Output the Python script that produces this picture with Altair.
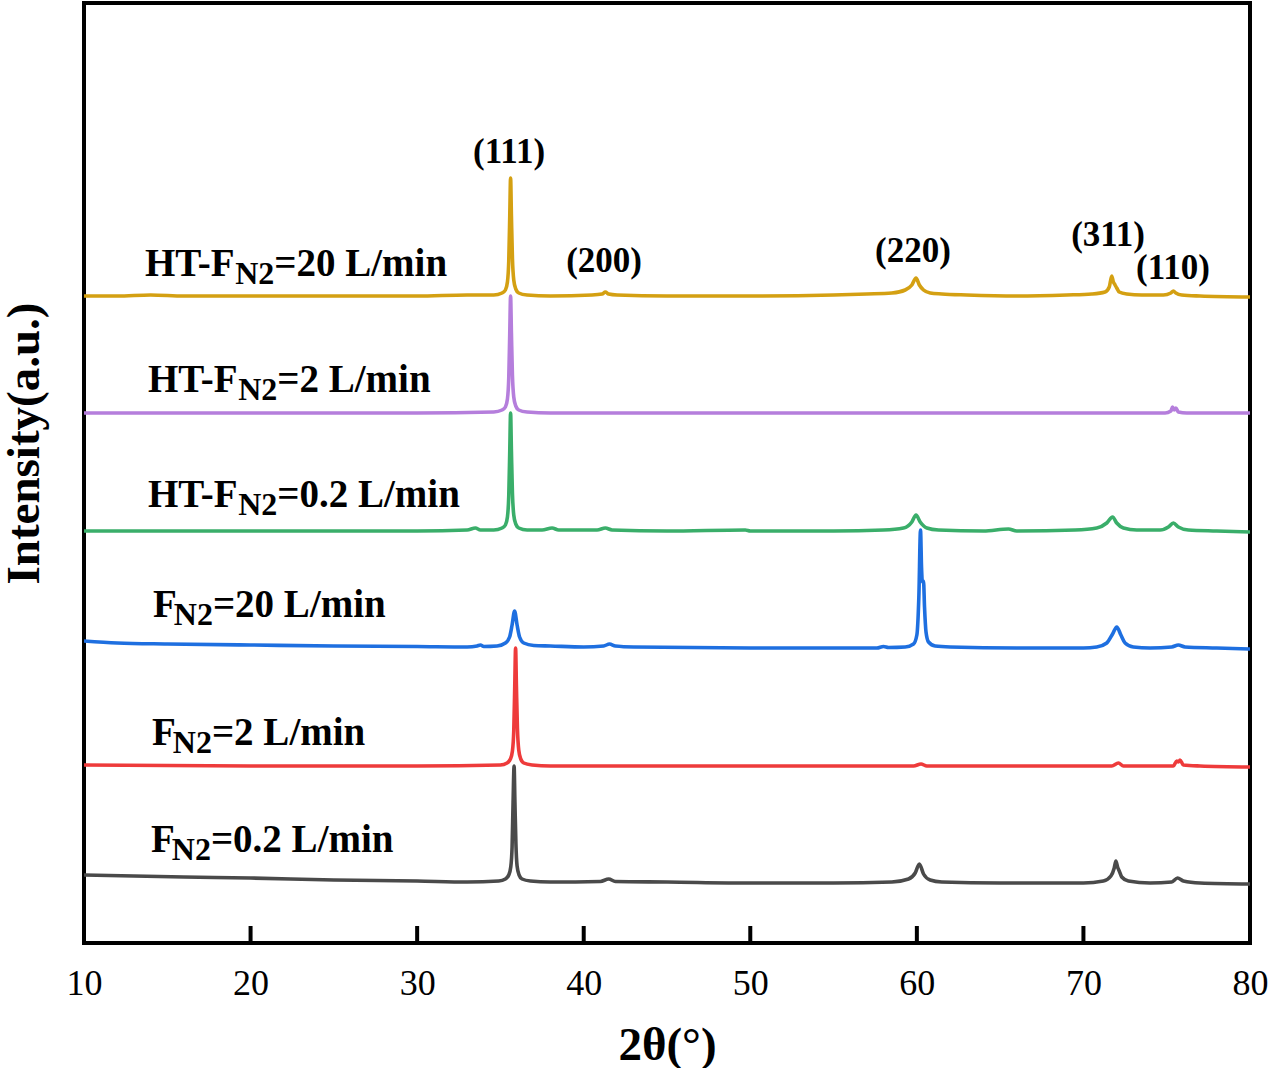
import altair as alt
import pandas as pd

# ---- XRD patterns: 2-theta (deg) and intensity above each trace's own baseline ----
hi_20 = [(10, 0), (12, 0), (14, 1), (16, 0), (20, 0), (25, 0), (30, 0), (33, 1), (34.6, 1), (35.1, 3),
         (35.3, 6), (35.42, 14), (35.5, 35), (35.56, 80), (35.61, 118), (35.66, 80), (35.72, 38),
         (35.8, 16), (35.92, 7), (36.1, 3), (36.6, 1), (38, 0), (40.5, 1), (41.1, 2), (41.3, 4),
         (41.5, 2), (42, 1), (45, 0), (50, 0), (55, 1), (57, 2), (58.5, 3), (59.3, 6), (59.7, 11),
         (59.95, 18), (60.15, 11), (60.4, 6), (60.8, 3), (61.5, 2), (63, 1), (66, 0), (69, 1),
         (70.5, 2), (71.3, 4), (71.55, 9), (71.7, 20), (71.8, 14), (71.9, 11), (72.0, 8), (72.15, 4),
         (72.6, 2), (73.5, 1), (74.8, 1), (75.25, 3), (75.4, 5), (75.55, 3), (75.9, 1), (77, 0), (80, -1)]

hi_2 = [(10, 0), (20, 0), (30, 0), (34.6, 1), (35.1, 3), (35.3, 6), (35.42, 14), (35.5, 35),
        (35.56, 80), (35.61, 117), (35.66, 80), (35.72, 38), (35.8, 16), (35.92, 7), (36.1, 3),
        (36.6, 1), (38, 0), (50, 0), (60, 0), (70, 0), (74.9, 0), (75.25, 2), (75.35, 6), (75.45, 3),
        (75.55, 5), (75.7, 1), (76.2, 0), (80, 0)]

hi_02 = [(10, 0), (20, 0), (30, 0), (33.0, 1), (33.5, 3), (33.8, 1), (34.6, 1), (35.1, 3), (35.3, 6),
         (35.42, 14), (35.5, 35), (35.56, 80), (35.61, 118), (35.66, 80), (35.72, 38), (35.8, 16),
         (35.92, 7), (36.1, 3), (36.6, 1), (37.5, 1), (38.1, 3), (38.5, 1), (40.8, 1), (41.3, 3),
         (41.7, 1), (45, 0), (49.7, 1), (50, 0), (55, 0), (58, 1), (59.2, 3), (59.7, 9), (59.95, 16),
         (60.2, 9), (60.6, 3), (61.3, 1), (64, 0), (65.5, 2), (66, 0), (69.5, 1), (70.8, 3), (71.4, 8),
         (71.75, 14), (72.0, 8), (72.4, 3), (73.2, 1), (74.6, 1), (75.1, 4), (75.4, 8), (75.7, 4),
         (76.3, 1), (78, 0), (80, -1)]

as_20 = [(10, 6), (12, 4), (15, 3), (20, 2), (25, 1), (30, 0.5), (33, 0), (33.6, 1), (33.8, 2),
         (34.0, 0.5), (34.8, 1), (35.3, 4), (35.55, 10), (35.7, 22), (35.85, 36), (36.0, 22),
         (36.15, 10), (36.4, 4), (37, 1.5), (38, 1), (40, 0), (41.2, 1), (41.55, 3), (41.9, 1), (43, 0),
         (50, -1), (55, -1), (57.6, -1), (58.0, 0.5), (58.3, -0.5), (59.3, 0), (59.8, 3), (60.0, 12),
         (60.12, 50), (60.22, 117), (60.28, 80), (60.33, 65), (60.4, 66), (60.46, 40), (60.55, 15),
         (60.7, 5), (61.1, 1), (62, 0), (66, -1), (70, -1), (70.8, 0), (71.4, 4), (71.75, 13),
         (72.0, 20), (72.25, 12), (72.5, 4), (73.0, 0), (74, -1), (75.3, 0), (75.7, 2), (76.1, 0),
         (78, -1), (80, -2)]

as_2 = [(10, 1), (20, 0), (30, 0), (35.0, 1), (35.4, 3), (35.6, 7), (35.72, 15), (35.8, 35),
        (35.86, 80), (35.91, 118), (35.96, 80), (36.02, 38), (36.1, 16), (36.22, 7), (36.4, 3),
        (36.9, 1), (38, 0), (45, 0), (50, 0), (59.8, 0), (60.25, 2), (60.6, 0), (71.7, 0), (72.1, 3),
        (72.4, 0), (75.4, 0), (75.6, 5), (75.7, 4), (75.8, 6), (76.0, 1), (77, 0), (80, -1)]

as_02 = [(10, 7), (13, 6), (16, 5), (20, 4), (25, 2), (30, 1), (33, 0), (34.9, 1), (35.3, 3),
         (35.5, 7), (35.62, 15), (35.7, 35), (35.76, 80), (35.82, 116), (35.87, 80), (35.93, 38),
         (36.0, 16), (36.12, 7), (36.3, 3), (36.8, 1), (38, 0), (41.0, 0.5), (41.5, 3), (41.9, 0.5),
         (45, 0), (50, -1), (55, -1), (58.5, 0), (59.5, 3), (59.9, 9), (60.15, 18), (60.4, 8),
         (60.8, 2), (61.5, 0), (65, -1), (70, -1), (71.2, 1), (71.65, 6), (71.85, 14), (71.95, 21),
         (72.05, 15), (72.15, 11), (72.3, 5), (72.7, 1), (74, -1), (75.3, 0), (75.65, 4), (76.0, 1),
         (77, -1), (80, -2)]

series_keys = ["HT-20", "HT-2", "HT-0.2", "AS-20", "AS-2", "AS-0.2"]
series_data = [hi_20, hi_2, hi_02, as_20, as_2, as_02]
series_offsets = [647, 530, 412, 296, 177, 61]          # vertical stacking of the traces
series_colors = ["#D4A012", "#B57EDC", "#3AAE6A", "#1E6FE0", "#EE3B3B", "#4A4A4A"]

# trace labels: prefix, subscript, suffix
label_prefix = ["HT-F", "HT-F", "HT-F", "F", "F", "F"]
label_sub = ["N2"] * 6
label_suffix = ["=20 L/min", "=2 L/min", "=0.2 L/min", "=20 L/min", "=2 L/min", "=0.2 L/min"]
label_x = [13.66, 13.84, 13.84, 14.14, 14.08, 14.02]
label_y = [667, 551, 436, 326, 198, 91]

# reflections
hkl_text = ["(111)", "(200)", "(220)", "(311)", "(110)"]
hkl_x = [35.52, 41.22, 59.77, 71.48, 75.38]
hkl_y = [791, 682, 692, 708, 675]

x_ticks = [10, 20, 30, 40, 50, 60, 70, 80]

W, H = 1166, 940
X_MIN, X_MAX = 10, 80
FONT = "Liberation Serif"
MAIN_SIZE, SUB_SIZE = 39, 32
X_TITLE = "2θ(°)"
Y_TITLE = "Intensity(a.u.)"

# Times-metric advance widths (bold, 1/1000 em) for laying out the subscripts
ADV = {"H": 778, "T": 667, "-": 333, "F": 611, "N": 722, "2": 500, "=": 570, "0": 500,
       ".": 250, " ": 250, "L": 667, "/": 278, "m": 833, "i": 278, "n": 556}


def text_width(s, size):
    return sum(ADV[c] for c in s) * size / 1000.0


px_per_deg = W / (X_MAX - X_MIN)
SUB_KERN = 3  # the subscript tucks under the arm of the F

rows = []
for key, pts, off in zip(series_keys, series_data, series_offsets):
    for tt, h in pts:
        rows.append({"series": key, "two_theta": tt, "intensity": off + h})
df = pd.DataFrame(rows)

lab_rows = []
for i in range(6):
    w_pre = text_width(label_prefix[i], MAIN_SIZE) - SUB_KERN
    w_sub = text_width(label_sub[i], SUB_SIZE)
    lab_rows.append({"x": label_x[i], "y": label_y[i], "t": label_prefix[i], "part": "pre"})
    lab_rows.append({"x": label_x[i] + w_pre / px_per_deg, "y": label_y[i], "t": label_sub[i], "part": "sub"})
    lab_rows.append({"x": label_x[i] + (w_pre + w_sub) / px_per_deg, "y": label_y[i],
                     "t": label_suffix[i], "part": "suf"})
lab_df = pd.DataFrame(lab_rows)

hkl_df = pd.DataFrame({"x": hkl_x, "y": hkl_y, "t": hkl_text})
tick_df = pd.DataFrame({"x": x_ticks[1:-1]})

x_scale = alt.Scale(domain=[X_MIN, X_MAX], nice=False, zero=False)
y_scale = alt.Scale(domain=[0, H], nice=False, zero=False)


def xenc(field):
    return alt.X(field, scale=x_scale, title=X_TITLE,
                 axis=alt.Axis(values=x_ticks))


def yenc(field):
    return alt.Y(field, scale=y_scale, title=Y_TITLE)


lines = alt.Chart(df).mark_line(strokeWidth=3.6, interpolate="monotone", clip=True).encode(
    x=xenc("two_theta:Q"),
    y=yenc("intensity:Q"),
    color=alt.Color("series:N", scale=alt.Scale(domain=series_keys, range=series_colors), legend=None),
    detail="series:N",
)

ticks = alt.Chart(tick_df).mark_rule(color="black", strokeWidth=4).encode(
    x=xenc("x:Q"),
    y=alt.value(H),
    y2=alt.value(H - 17),
)

base_text = dict(font=FONT, fontWeight="bold", color="black", align="left", baseline="alphabetic")

pre = alt.Chart(lab_df).transform_filter(alt.datum.part != "sub").mark_text(
    fontSize=MAIN_SIZE, **base_text).encode(
    x=xenc("x:Q"), y=yenc("y:Q"), text="t:N",
)
sub = alt.Chart(lab_df).transform_filter(alt.datum.part == "sub").mark_text(
    fontSize=SUB_SIZE, dy=8, **base_text).encode(
    x=xenc("x:Q"), y=yenc("y:Q"), text="t:N",
)

hkl = alt.Chart(hkl_df).mark_text(font=FONT, fontWeight="bold", fontSize=35, color="black",
                                  align="center", baseline="middle").encode(
    x=xenc("x:Q"), y=yenc("y:Q"), text="t:N",
)

chart = alt.layer(lines, ticks, pre, sub, hkl).properties(
    width=W, height=H,
    background="white",
    autosize=alt.AutoSizeParams(type="none"),
    padding={"left": 84, "top": 3, "right": 20, "bottom": 125},
).configure_view(
    stroke="black", strokeWidth=4,
).configure_axisX(
    ticks=False, tickSize=0, domain=False, grid=False,
    labelFont=FONT, labelFontSize=36, labelColor="black",
    labelPadding=40, labelBaseline="middle", labelFlush=False,
    titleFont=FONT, titleFontSize=47, titleFontWeight="bold", titleColor="black",
    titleX=583, titleY=102, titleBaseline="middle", titleAlign="center",
).configure_axisY(
    labels=False, ticks=False, domain=False, grid=False,
    titleFont=FONT, titleFontSize=47, titleFontWeight="bold", titleColor="black",
    titleAngle=270, titleX=-60, titleY=440, titleBaseline="middle", titleAlign="center",
)

chart.save("out.html", embed_options={"renderer": "svg", "actions": False})
